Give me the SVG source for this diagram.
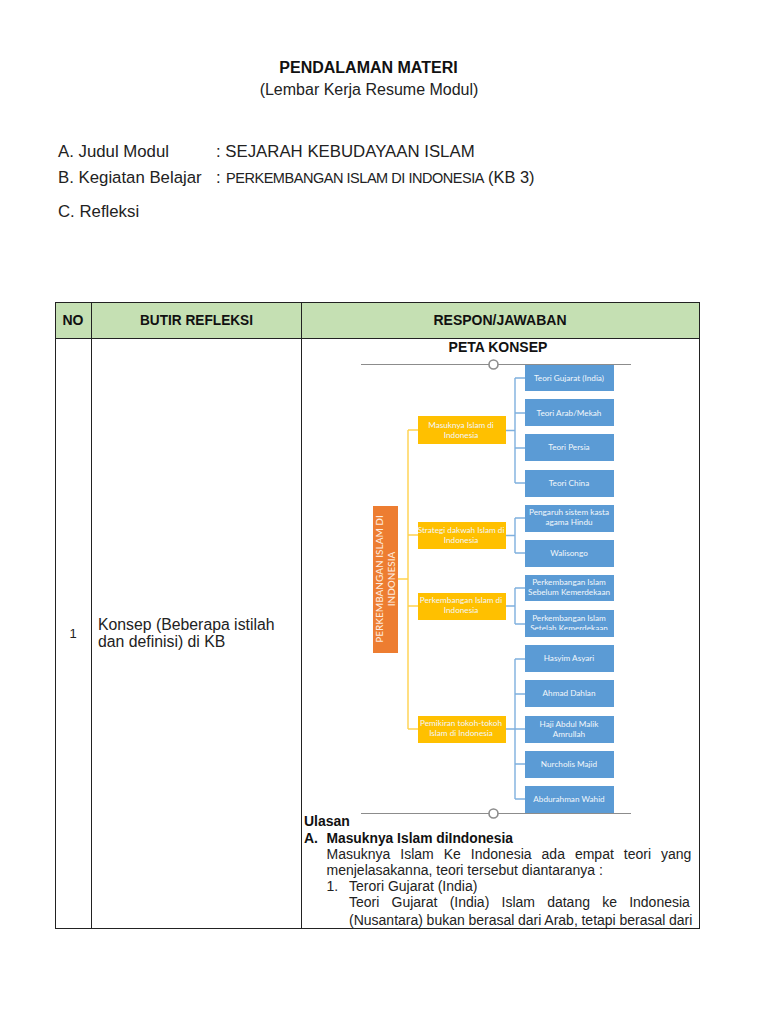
<svg xmlns="http://www.w3.org/2000/svg" width="768" height="1024" viewBox="0 0 768 1024">
<style>
text{font-family:"Liberation Sans",Arial,sans-serif;fill:#222}
.b{font-weight:bold;fill:#111}
.h{font-size:14px;font-weight:bold;fill:#111;text-anchor:middle}
.t{font-size:16.8px}
.u{font-size:14px}
.m{text-anchor:middle}
.g{stroke:#222;stroke-width:1;fill:none}
.n{font-family:Lato,"Open Sans",sans-serif;font-size:8.2px;fill:#f2f7fb;text-anchor:middle}
.r{font-family:Lato,"Open Sans",sans-serif;font-size:10px;font-weight:500;fill:#fdeadd;text-anchor:middle}
.blue{fill:#5b9bd5}
.yel{fill:#ffc000}
.cb{stroke:#7fb0de;stroke-width:1.4;fill:none}
.cy{stroke:#ffd24d;stroke-width:1.4;fill:none}
.rule{stroke:#8c8c8c;stroke-width:1;fill:none}
.ring{fill:#fff;stroke:#8c8c8c;stroke-width:1.6}
</style>
<defs><clipPath id="clip8"><rect x="525" y="610" width="89" height="20"/></clipPath></defs>
<rect width="768" height="1024" fill="#fff"/>

<g id="heading">
<text x="368.500" y="73" class="b m" font-size="16">PENDALAMAN MATERI</text>
<text x="369" y="95" class="m" font-size="16">(Lembar Kerja Resume Modul)</text>
<text x="58" y="157" class="t">A. Judul Modul</text>
<text x="216" y="157" class="t">: SEJARAH KEBUDAYAAN ISLAM</text>
<text x="58" y="183" class="t">B. Kegiatan Belajar</text>
<text x="216" y="183" class="t">:</text>
<text x="226" y="183" font-size="14.500" letter-spacing="-0.460">PERKEMBANGAN ISLAM DI INDONESIA</text>
<text x="488" y="183" font-size="16.400">(KB 3)</text>
<text x="58" y="217" class="t">C. Refleksi</text>
</g>

<g id="table">
<rect x="55.500" y="302.500" width="644" height="36" fill="#c5e0b3"/>
<rect x="55.500" y="302.500" width="644" height="626" class="g"/>
<path d="M55.500 338.500H699.500M91.500 302.500V928.500M301.500 302.500V928.500" class="g"/>
<text x="73" y="325" class="h">NO</text>
<text x="196.500" y="325" class="h" textLength="113" lengthAdjust="spacingAndGlyphs">BUTIR REFLEKSI</text>
<text x="500" y="325" class="h">RESPON/JAWABAN</text>
<text x="73" y="638" class="m" font-size="13">1</text>
<text x="98" y="630" font-size="15.800">Konsep (Beberapa istilah</text>
<text x="98" y="647" font-size="15.800">dan definisi) di KB</text>
<text x="498" y="352" class="h">PETA KONSEP</text>
</g>

<g id="connectors">
<path class="rule" d="M361 364.500H631M361 813.500H631"/>
<path class="cy" d="M398 579H408M408 430V729M408 430H418M408 535H418M408 606H418M408 729H418"/>
<path class="cb" d="M506 430.500H515M515 378V483M515 378H525M515 413H525M515 448H525M515 483H525"/>
<path class="cb" d="M506 535.500H515M515 518V553M515 518H525M515 553H525"/>
<path class="cb" d="M506 606H515M515 588V624M515 588H525M515 624H525"/>
<path class="cb" d="M506 729H515M515 659V799M515 659H525M515 694H525M515 729H525M515 764H525M515 799H525"/>
<circle class="ring" cx="493.500" cy="364.500" r="4.500"/>
<circle class="ring" cx="493.500" cy="813.500" r="4.500"/>
</g>

<g id="root"><rect x="373" y="506" width="25" height="147" fill="#ed7d31"/>
<text transform="translate(383 579) rotate(-90)" class="r">PERKEMBANGAN ISLAM DI</text>
<text transform="translate(395 579) rotate(-90)" class="r">INDONESIA</text></g>

<g id="y1"><rect class="yel" x="418" y="416" width="88" height="28"/><text class="n" x="461" y="428">Masuknya Islam di</text><text class="n" x="461" y="438">Indonesia</text></g>
<g id="y2"><rect class="yel" x="418" y="522" width="88" height="27"/><text class="n" x="461" y="533">Strategi dakwah Islam di</text><text class="n" x="461" y="543">Indonesia</text></g>
<g id="y3"><rect class="yel" x="418" y="593" width="88" height="27"/><text class="n" x="461" y="603">Perkembangan Islam di</text><text class="n" x="461" y="613">Indonesia</text></g>
<g id="y4"><rect class="yel" x="418" y="716" width="88" height="27"/><text class="n" x="461" y="726">Pemikiran tokoh-tokoh</text><text class="n" x="461" y="736">Islam di Indonesia</text></g>

<g id="b1"><rect class="blue" x="525" y="365" width="89" height="26"/><text class="n" x="569" y="381">Teori Gujarat (India)</text></g>
<g id="b2"><rect class="blue" x="525" y="399" width="89" height="27"/><text class="n" x="569" y="416">Teori Arab/Mekah</text></g>
<g id="b3"><rect class="blue" x="525" y="434" width="89" height="27"/><text class="n" x="569" y="450">Teori Persia</text></g>
<g id="b4"><rect class="blue" x="525" y="470" width="89" height="27"/><text class="n" x="569" y="486">Teori China</text></g>
<g id="b5"><rect class="blue" x="525" y="505" width="89" height="27"/><text class="n" x="569" y="515">Pengaruh sistem kasta</text><text class="n" x="569" y="525">agama Hindu</text></g>
<g id="b6"><rect class="blue" x="525" y="540" width="89" height="27"/><text class="n" x="569" y="556">Walisongo</text></g>
<g id="b7"><rect class="blue" x="525" y="575" width="89" height="26"/><text class="n" x="569" y="585">Perkembangan Islam</text><text class="n" x="569" y="595">Sebelum Kemerdekaan</text></g>
<g id="b8"><rect class="blue" x="525" y="610" width="89" height="27"/><g clip-path="url(#clip8)"><text class="n" x="569" y="621">Perkembangan Islam</text><text class="n" x="569" y="631">Setelah Kemerdekaan</text></g></g>
<g id="b9"><rect class="blue" x="525" y="645" width="89" height="27"/><text class="n" x="569" y="661">Hasyim Asyari</text></g>
<g id="b10"><rect class="blue" x="525" y="680" width="89" height="27"/><text class="n" x="569" y="696">Ahmad Dahlan</text></g>
<g id="b11"><rect class="blue" x="525" y="716" width="89" height="27"/><text class="n" x="569" y="727">Haji Abdul Malik</text><text class="n" x="569" y="737">Amrullah</text></g>
<g id="b12"><rect class="blue" x="525" y="751" width="89" height="27"/><text class="n" x="569" y="767">Nurcholis Majid</text></g>
<g id="b13"><rect class="blue" x="525" y="786" width="89" height="27"/><text class="n" x="569" y="802">Abdurahman Wahid</text></g>

<g id="ulasan">
<text x="304" y="826" class="b u">Ulasan</text>
<text x="304" y="843" class="b u">A.</text>
<text x="326.500" y="843" class="b u" textLength="186.500" lengthAdjust="spacingAndGlyphs">Masuknya Islam diIndonesia</text>
<text x="326.500" y="859" class="u" word-spacing="6.100">Masuknya Islam Ke Indonesia ada empat teori yang</text>
<text x="326.500" y="875" class="u">menjelasakanna, teori tersebut diantaranya :</text>
<text x="326.500" y="891" class="u">1.</text>
<text x="349" y="891" class="u">Terori Gujarat (India)</text>
<text x="349" y="907" class="u" word-spacing="8.300">Teori Gujarat (India) Islam datang ke Indonesia</text>
<text x="349" y="925" class="u" word-spacing="-0.200">(Nusantara) bukan berasal dari Arab, tetapi berasal dari</text>
</g>
</svg>
